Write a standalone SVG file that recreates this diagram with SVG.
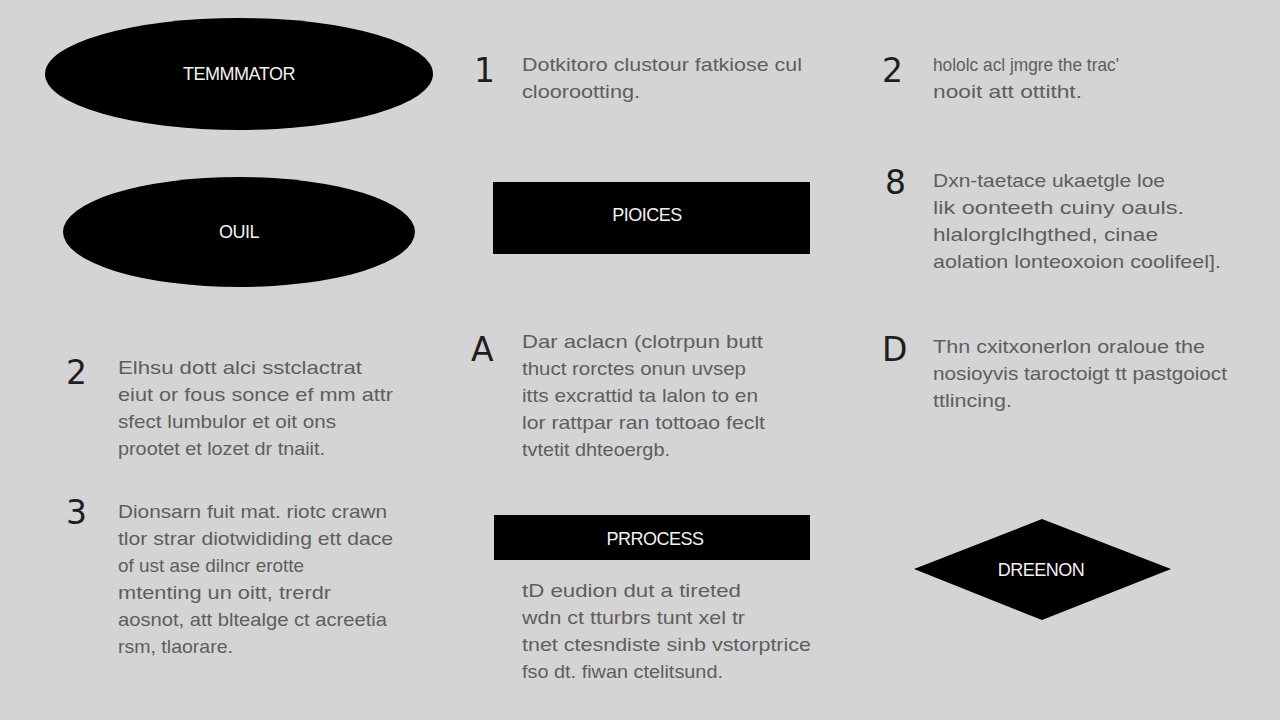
<svg xmlns="http://www.w3.org/2000/svg" width="1280" height="720" viewBox="0 0 1280 720">
<style>
.bg{fill:#d4d4d4}
.shape{fill:#000}
.lbl{font-family:"Liberation Sans",Arial,sans-serif;font-size:18px;fill:#f2f2f2;text-anchor:middle;letter-spacing:-0.5px}
.num{font-family:"DejaVu Sans","Liberation Sans",sans-serif;font-size:33px;fill:#1e1e1e}
.txt{font-family:"Liberation Sans",Arial,sans-serif;font-size:19px;fill:#5e5e5e}
</style>
<rect class="bg" x="0" y="0" width="1280" height="720"/>
<g id="connectors"></g>
<g id="node-terminator">
<ellipse class="shape" cx="239" cy="74" rx="194" ry="56"/>
<text class="lbl" x="239" y="80">TEMMMATOR</text>
</g>
<g id="node-oval">
<ellipse class="shape" cx="239" cy="232" rx="176" ry="55"/>
<text class="lbl" x="239" y="238">OUIL</text>
</g>
<g id="node-process1">
<rect class="shape" x="493" y="182" width="317" height="72"/>
<text class="lbl" x="647" y="221">PIOICES</text>
</g>
<g id="node-process2">
<rect class="shape" x="494" y="515" width="316" height="45"/>
<text class="lbl" x="655" y="545">PRROCESS</text>
</g>
<g id="node-decision">
<polygon class="shape" points="914,569 1042,519 1171,569 1042,620"/>
<text class="lbl" x="1041" y="576">DREENON</text>
</g>
<g id="note-1">
<text class="num" x="474" y="82">1</text>
<text class="txt" x="522" y="71" textLength="280" lengthAdjust="spacingAndGlyphs">Dotkitoro clustour fatkiose cul</text>
<text class="txt" x="522" y="98" textLength="118" lengthAdjust="spacingAndGlyphs">cloorootting.</text>
</g>
<g id="note-2-right">
<text class="num" x="882" y="82">2</text>
<text class="txt" x="933" y="71" textLength="186" lengthAdjust="spacingAndGlyphs">hololc acl jmgre the trac'</text>
<text class="txt" x="933" y="98" textLength="149" lengthAdjust="spacingAndGlyphs">nooit att ottitht.</text>
</g>
<g id="note-8">
<text class="num" x="885" y="194">8</text>
<text class="txt" x="933" y="187" textLength="232" lengthAdjust="spacingAndGlyphs">Dxn-taetace ukaetgle loe</text>
<text class="txt" x="933" y="214" textLength="251" lengthAdjust="spacingAndGlyphs">lik oonteeth cuiny oauls.</text>
<text class="txt" x="933" y="241" textLength="225" lengthAdjust="spacingAndGlyphs">hlalorglclhgthed, cinae</text>
<text class="txt" x="933" y="268" textLength="288" lengthAdjust="spacingAndGlyphs">aolation lonteoxoion coolifeel].</text>
</g>
<g id="note-2-left">
<text class="num" x="66" y="384">2</text>
<text class="txt" x="118" y="374" textLength="244" lengthAdjust="spacingAndGlyphs">Elhsu dott alci sstclactrat</text>
<text class="txt" x="118" y="401" textLength="275" lengthAdjust="spacingAndGlyphs">eiut or fous sonce ef mm attr</text>
<text class="txt" x="118" y="428" textLength="218" lengthAdjust="spacingAndGlyphs">sfect lumbulor et oit ons</text>
<text class="txt" x="118" y="455" textLength="207" lengthAdjust="spacingAndGlyphs">prootet et lozet dr tnaiit.</text>
</g>
<g id="note-a">
<text class="num" x="471" y="361">A</text>
<text class="txt" x="522" y="348" textLength="241" lengthAdjust="spacingAndGlyphs">Dar aclacn (clotrpun butt</text>
<text class="txt" x="522" y="375" textLength="224" lengthAdjust="spacingAndGlyphs">thuct rorctes onun uvsep</text>
<text class="txt" x="522" y="402" textLength="236" lengthAdjust="spacingAndGlyphs">itts excrattid ta lalon to en</text>
<text class="txt" x="522" y="429" textLength="243" lengthAdjust="spacingAndGlyphs">lor rattpar ran tottoao feclt</text>
<text class="txt" x="522" y="456" textLength="148" lengthAdjust="spacingAndGlyphs">tvtetit dhteoergb.</text>
</g>
<g id="note-d">
<text class="num" x="882" y="361">D</text>
<text class="txt" x="933" y="353" textLength="272" lengthAdjust="spacingAndGlyphs">Thn cxitxonerlon oraloue the</text>
<text class="txt" x="933" y="380" textLength="294" lengthAdjust="spacingAndGlyphs">nosioyvis taroctoigt tt pastgoioct</text>
<text class="txt" x="933" y="407" textLength="79" lengthAdjust="spacingAndGlyphs">ttlincing.</text>
</g>
<g id="note-3">
<text class="num" x="66" y="524">3</text>
<text class="txt" x="118" y="518" textLength="269" lengthAdjust="spacingAndGlyphs">Dionsarn fuit mat. riotc crawn</text>
<text class="txt" x="118" y="545" textLength="275" lengthAdjust="spacingAndGlyphs">tlor strar diotwididing ett dace</text>
<text class="txt" x="118" y="572" textLength="186" lengthAdjust="spacingAndGlyphs">of ust ase dilncr erotte</text>
<text class="txt" x="118" y="599" textLength="213" lengthAdjust="spacingAndGlyphs">mtenting un oitt, trerdr</text>
<text class="txt" x="118" y="626" textLength="269" lengthAdjust="spacingAndGlyphs">aosnot, att bltealge ct acreetia</text>
<text class="txt" x="118" y="653" textLength="115" lengthAdjust="spacingAndGlyphs">rsm, tlaorare.</text>
</g>
<g id="note-bottom">
<text class="txt" x="522" y="597" textLength="219" lengthAdjust="spacingAndGlyphs">tD eudion dut a tireted</text>
<text class="txt" x="522" y="624" textLength="223" lengthAdjust="spacingAndGlyphs">wdn ct tturbrs tunt xel tr</text>
<text class="txt" x="522" y="651" textLength="289" lengthAdjust="spacingAndGlyphs">tnet ctesndiste sinb vstorptrice</text>
<text class="txt" x="522" y="678" textLength="201" lengthAdjust="spacingAndGlyphs">fso dt. fiwan ctelitsund.</text>
</g>
</svg>
